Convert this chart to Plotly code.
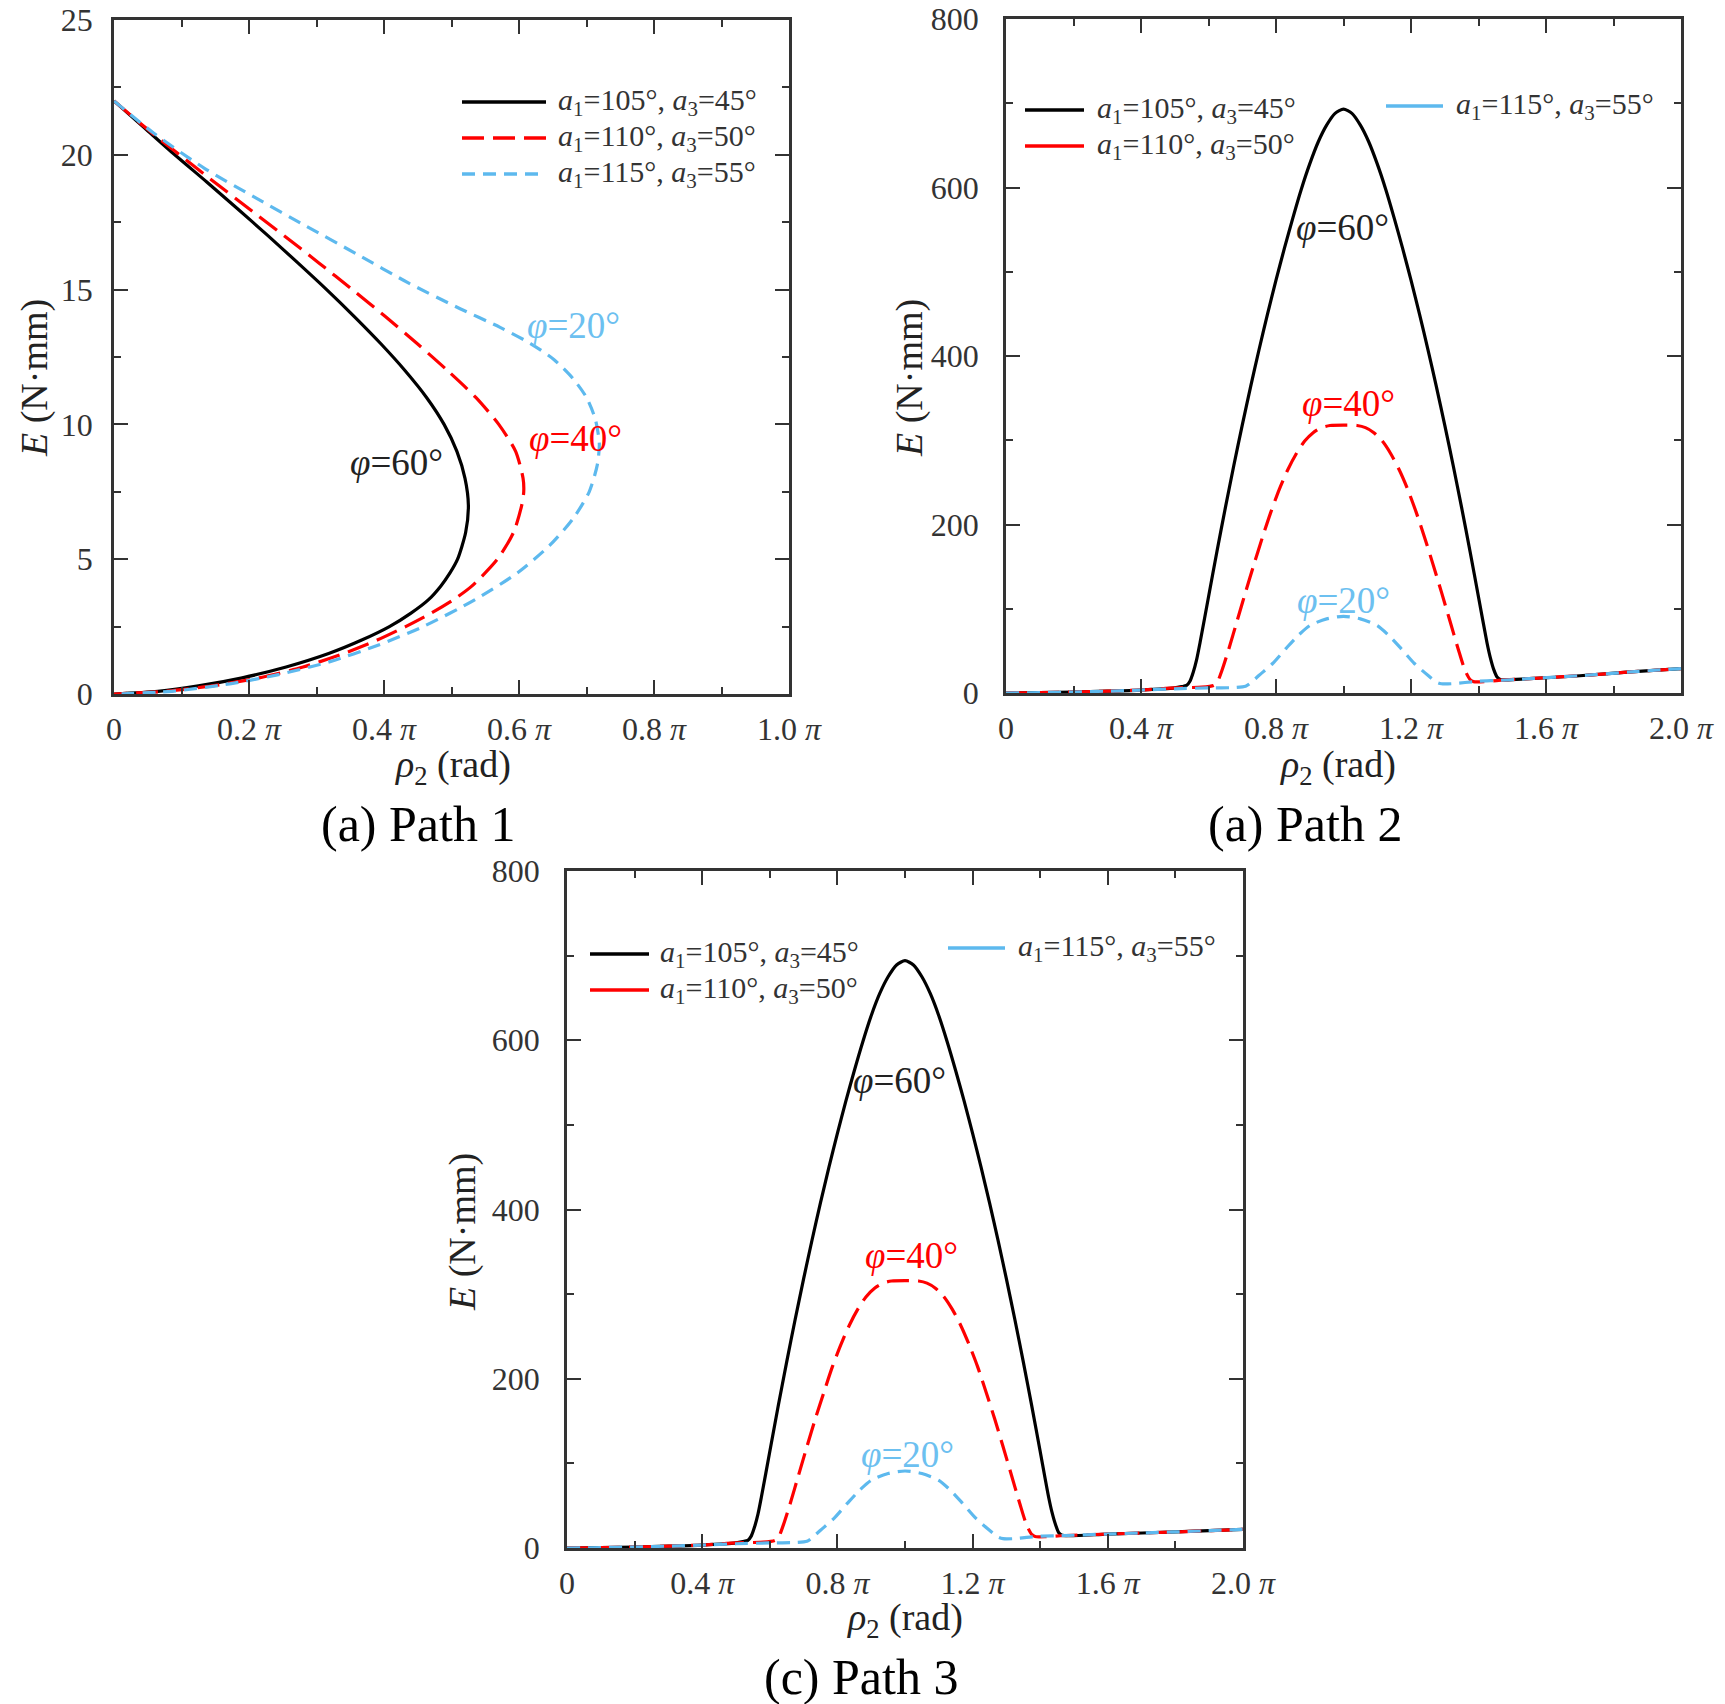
import plotly.graph_objects as go

W, H = 1725, 1704

# ---------------- DATA (x in units of pi, E in N·mm) ----------------
series_names = ["a1=105°, a3=45°", "a1=110°, a3=50°", "a1=115°, a3=55°"]
phi_labels = ["φ=60°", "φ=40°", "φ=20°"]

# Path 1 (curves run from E=22 at x=0 round the nose back to the origin)
p1_black_x = [0.000, 0.045, 0.090, 0.137, 0.183, 0.228, 0.272, 0.315, 0.356, 0.395, 0.431, 0.463, 0.489,
              0.508, 0.520, 0.525, 0.521, 0.509, 0.498, 0.484, 0.466, 0.440, 0.408, 0.367, 0.318, 0.255,
              0.190, 0.125, 0.065, 0.000]
p1_black_E = [22.0, 21.0, 20.0, 19.0, 18.0, 17.0, 16.0, 15.0, 14.0, 13.0, 12.0, 11.0, 10.0,
              9.0, 8.0, 7.0, 6.0, 5.0, 4.5, 4.0, 3.5, 3.0, 2.5, 2.0, 1.5, 1.0,
              0.6, 0.3, 0.1, 0.0]
p1_red_x = [0.000, 0.047, 0.097, 0.148, 0.200, 0.252, 0.303, 0.353, 0.402, 0.449, 0.494, 0.536, 0.570,
            0.595, 0.606, 0.607, 0.604, 0.592, 0.568, 0.530, 0.503, 0.470, 0.432, 0.390, 0.340, 0.280,
            0.215, 0.145, 0.075, 0.000]
p1_red_E = [22.0, 21.0, 20.0, 19.0, 18.0, 17.0, 16.0, 15.0, 14.0, 13.0, 12.0, 11.0, 10.0,
            9.0, 8.0, 7.5, 7.0, 6.0, 5.0, 4.0, 3.5, 3.0, 2.5, 2.0, 1.5, 1.0,
            0.6, 0.3, 0.1, 0.0]
p1_blue_x = [0.000, 0.059, 0.134, 0.210, 0.285, 0.361, 0.436, 0.512, 0.572, 0.617, 0.652, 0.680, 0.700,
             0.713, 0.719, 0.716, 0.704, 0.680, 0.645, 0.598, 0.535, 0.458, 0.390, 0.320, 0.240, 0.165,
             0.085, 0.000]
p1_blue_E = [22.0, 20.8, 19.5, 18.4, 17.35, 16.3, 15.25, 14.3, 13.6, 13.0, 12.4, 11.7, 11.0,
             10.2, 9.3, 8.5, 7.5, 6.5, 5.5, 4.5, 3.5, 2.5, 1.8, 1.2, 0.7, 0.35,
             0.1, 0.0]

# Path 2
p2_black_x = [0.00, 0.10, 0.20, 0.30, 0.40, 0.50, 0.52, 0.535, 0.545, 0.555, 0.565, 0.575, 0.60, 0.625, 0.65,
              0.675, 0.70, 0.725, 0.75, 0.775, 0.80, 0.825, 0.85, 0.875, 0.90, 0.925, 0.95, 0.975, 1.00,
              1.025, 1.05, 1.075, 1.10, 1.125, 1.15, 1.175, 1.20, 1.225, 1.25, 1.275, 1.30, 1.325,
              1.35, 1.375, 1.40, 1.425, 1.435, 1.445, 1.455, 1.465, 1.55, 1.70, 1.85, 2.00]
p2_black_E = [0, 0.5, 1.2, 2.2, 3.5, 6, 7.5, 9, 14, 25, 40, 60, 114, 168, 220,
              270, 318, 364, 408, 450, 490, 528, 564, 598, 628, 654, 674, 688, 693,
              688, 674, 654, 628, 598, 564, 528, 490, 450, 408, 364, 318, 270,
              220, 168, 114, 60, 42, 28, 19, 16, 17, 20.5, 25, 29]
p2_red_x = [0.00, 0.10, 0.20, 0.30, 0.40, 0.50, 0.58, 0.615, 0.625, 0.64, 0.66, 0.685, 0.71, 0.735, 0.76,
            0.785, 0.81, 0.835, 0.86, 0.885, 0.91, 0.935, 0.96, 1.00, 1.04, 1.065, 1.09, 1.115, 1.14,
            1.165, 1.19, 1.215, 1.24, 1.265, 1.29, 1.315, 1.34, 1.36, 1.375, 1.385, 1.42, 1.46,
            1.55, 1.70, 1.85, 2.00]
p2_red_E = [0, 0.5, 1.2, 2.2, 3.5, 6, 7, 9, 12, 27, 52, 86, 120, 153, 185,
            215, 242, 265, 284, 299, 309, 315, 317.5, 318, 317.5, 315, 309, 299, 284,
            265, 242, 215, 185, 153, 120, 86, 52, 27, 16, 13.5, 13.5, 15,
            17, 20.5, 25, 29]
p2_blue_x = [0.00, 0.10, 0.20, 0.30, 0.40, 0.50, 0.60, 0.68, 0.71, 0.725, 0.75, 0.79, 0.83, 0.865, 0.90,
             0.95, 1.00, 1.05, 1.10, 1.135, 1.17, 1.21, 1.25, 1.275, 1.29, 1.32, 1.36, 1.40, 1.46,
             1.55, 1.70, 1.85, 2.00]
p2_blue_E = [0, 0.5, 1.2, 2.2, 3.5, 5, 6, 6.5, 8, 12, 21, 35, 53, 68, 80,
             88, 91, 88, 80, 68, 53, 35, 21, 13, 11, 11, 12.5, 14, 15,
             17, 20.5, 25, 29]

# Path 3
p3_black_x = [0.00, 0.10, 0.20, 0.30, 0.40, 0.50, 0.52, 0.535, 0.545, 0.555, 0.565, 0.575, 0.60, 0.625, 0.65,
              0.675, 0.70, 0.725, 0.75, 0.775, 0.80, 0.825, 0.85, 0.875, 0.90, 0.925, 0.95, 0.975, 1.00,
              1.025, 1.05, 1.075, 1.10, 1.125, 1.15, 1.175, 1.20, 1.225, 1.25, 1.275, 1.30, 1.325,
              1.35, 1.375, 1.40, 1.425, 1.435, 1.445, 1.455, 1.465, 1.60, 1.80, 2.00]
p3_black_E = [0, 0.5, 1.2, 2.2, 3.5, 6, 7.5, 9, 14, 25, 40, 60, 114, 168, 220,
              270, 318, 364, 408, 450, 490, 528, 564, 598, 629, 655, 675, 689, 694,
              689, 675, 655, 629, 598, 564, 528, 490, 450, 408, 364, 318, 270,
              220, 168, 114, 60, 42, 28, 18, 15, 16.5, 19, 22]
p3_red_x = [0.00, 0.10, 0.20, 0.30, 0.40, 0.50, 0.58, 0.615, 0.625, 0.64, 0.66, 0.685, 0.71, 0.735, 0.76,
            0.785, 0.81, 0.835, 0.86, 0.885, 0.91, 0.935, 0.96, 1.00, 1.04, 1.065, 1.09, 1.115, 1.14,
            1.165, 1.19, 1.215, 1.24, 1.265, 1.29, 1.315, 1.34, 1.36, 1.375, 1.385, 1.42, 1.46,
            1.60, 1.80, 2.00]
p3_red_E = [0, 0.5, 1.2, 2.2, 3.5, 6, 7, 9, 12, 27, 52, 86, 120, 153, 184,
            214, 240, 263, 282, 297, 307, 313, 315.5, 316, 315.5, 313, 307, 297, 282,
            263, 240, 214, 184, 153, 120, 86, 52, 27, 16, 13.5, 13.5, 14.5,
            16.5, 19, 22]
p3_blue_x = [0.00, 0.10, 0.20, 0.30, 0.40, 0.50, 0.60, 0.68, 0.71, 0.725, 0.75, 0.79, 0.83, 0.865, 0.90,
             0.95, 1.00, 1.05, 1.10, 1.135, 1.17, 1.21, 1.25, 1.275, 1.29, 1.32, 1.36, 1.40, 1.46,
             1.60, 1.80, 2.00]
p3_blue_E = [0, 0.5, 1.2, 2.2, 3.5, 5, 6, 6.5, 8, 12, 21, 35, 53, 68, 80,
             88, 91, 88, 80, 68, 53, 35, 21, 13, 11, 11, 12.5, 14, 14.5,
             16.5, 19, 22]

# tick labels
p1_xtick_vals = [0, 0.2, 0.4, 0.6, 0.8, 1.0]
p1_xtick_text = ["0", "0.2 <i>π</i>", "0.4 <i>π</i>", "0.6 <i>π</i>", "0.8 <i>π</i>", "1.0 <i>π</i>"]
p23_xtick_vals = [0, 0.4, 0.8, 1.2, 1.6, 2.0]
p23_xtick_text = ["0", "0.4 <i>π</i>", "0.8 <i>π</i>", "1.2 <i>π</i>", "1.6 <i>π</i>", "2.0 <i>π</i>"]

# ---------------- STYLE ----------------
BLACK = "#000000"
RED = "#FF0000"
BLUE = "#5DB9EE"
FONT = "Liberation Serif"
AX = "#333333"

# plot areas in pixels (left, top, right, bottom)
boxes = {
    1: (114, 20, 789, 694),
    2: (1006, 19, 1681, 693),
    3: (567, 871, 1243, 1548),
}


def px(x):
    return x / W


def py(y):
    return 1 - y / H


fig = go.Figure()

line_styles = [
    dict(color=BLACK, width=3.2, dash="solid"),
    dict(color=RED, width=3.2, dash="22px,9px"),
    dict(color=BLUE, width=3.2, dash="13px,8px"),
]

panels = [
    ("x", "y", [(p1_black_x, p1_black_E), (p1_red_x, p1_red_E), (p1_blue_x, p1_blue_E)]),
    ("x2", "y2", [(p2_black_x, p2_black_E), (p2_red_x, p2_red_E), (p2_blue_x, p2_blue_E)]),
    ("x3", "y3", [(p3_black_x, p3_black_E), (p3_red_x, p3_red_E), (p3_blue_x, p3_blue_E)]),
]
for xa, ya, data in panels:
    for (xs, es), st, name in zip(data, line_styles, series_names):
        fig.add_trace(go.Scatter(x=xs, y=es, mode="lines", name=name,
                                 line=dict(shape="spline", smoothing=0.7, **st),
                                 xaxis=xa, yaxis=ya, showlegend=False))

axis_common = dict(showline=True, linecolor=AX, linewidth=2.5, mirror="ticks", ticks="inside", ticklen=14,
                   tickwidth=2, tickcolor=AX, showgrid=False, zeroline=False, automargin=False,
                   tickfont=dict(family=FONT, size=32, color=AX))


def minor(dt):
    return dict(ticks="inside", ticklen=7, tickwidth=2, tickcolor=AX, dtick=dt, tick0=0, showgrid=False)


layout_axes = {}
for key in [1, 2, 3]:
    l, t, r, b = boxes[key]
    xname = "xaxis" if key == 1 else f"xaxis{key}"
    yname = "yaxis" if key == 1 else f"yaxis{key}"
    anchor_x = "y" if key == 1 else f"y{key}"
    anchor_y = "x" if key == 1 else f"x{key}"
    if key == 1:
        xr, xtv, xtt, xminor = [0, 1.0], p1_xtick_vals, p1_xtick_text, 0.1
        yr, ydt, yminor = [0, 25], 5, 2.5
        ystand = 12
    else:
        xr, xtv, xtt, xminor = [0, 2.0], p23_xtick_vals, p23_xtick_text, 0.2
        yr, ydt, yminor = [0, 800], 200, 100
        ystand = 18
    layout_axes[xname] = dict(axis_common, domain=[px(l), px(r)], range=xr, anchor=anchor_x,
                              tickmode="array", tickvals=xtv, ticktext=xtt, minor=minor(xminor),
                              ticklabelstandoff=5)
    layout_axes[yname] = dict(axis_common, domain=[py(b), py(t)], range=yr, anchor=anchor_y,
                              tick0=0, dtick=ydt, minor=minor(yminor), ticklabelstandoff=ystand)

fig.update_layout(**layout_axes)

ann = []
shapes = []

# axis titles and captions
ytitle = "<i>E</i> (N·mm)"
xtitle = "<i>ρ</i><sub>2</sub> (rad)"
for (xc, yc) in [(34, 378), (909, 378), (462, 1232)]:
    ann.append(dict(x=px(xc), y=py(yc), xref="paper", yref="paper", text=ytitle, textangle=-90,
                    showarrow=False, font=dict(family=FONT, size=38, color="#222"),
                    xanchor="center", yanchor="middle"))
for (xc, yc) in [(453, 767), (1338, 767), (905, 1620)]:
    ann.append(dict(x=px(xc), y=py(yc), xref="paper", yref="paper", text=xtitle,
                    showarrow=False, font=dict(family=FONT, size=38, color="#222"),
                    xanchor="center", yanchor="middle"))
captions = ["(a) Path 1", "(a) Path 2", "(c) Path 3"]
for cap, (xc, yc) in zip(captions, [(418, 824), (1305, 824), (861, 1677)]):
    ann.append(dict(x=px(xc), y=py(yc), xref="paper", yref="paper", text=cap,
                    showarrow=False, font=dict(family=FONT, size=50, color="#000"),
                    xanchor="center", yanchor="middle"))

# phi labels (data coordinates)
phi_pos = {
    1: [(0.418, 8.6), (0.683, 9.46), (0.68, 13.65)],
    2: [(0.996, 553), (1.016, 344), (1.001, 110)],
    3: [(0.985, 552), (1.018, 346), (1.006, 110)],
}
phi_colors = ["#222222", RED, "#6CC0F0"]
for key in [1, 2, 3]:
    xr_ = "x" if key == 1 else f"x{key}"
    yr_ = "y" if key == 1 else f"y{key}"
    for lab, (xx, yy), c in zip(phi_labels, phi_pos[key], phi_colors):
        txt = "<i>φ</i>" + lab[1:]
        ann.append(dict(x=xx, y=yy, xref=xr_, yref=yr_, text=txt, showarrow=False,
                        font=dict(family=FONT, size=37, color=c), xanchor="center", yanchor="middle"))

# custom legends (line sample shapes + text)
leg_text = ["<i>a</i><sub>1</sub>=105°, <i>a</i><sub>3</sub>=45°",
            "<i>a</i><sub>1</sub>=110°, <i>a</i><sub>3</sub>=50°",
            "<i>a</i><sub>1</sub>=115°, <i>a</i><sub>3</sub>=55°"]
# (x0, x1, y, text_x, dashed?)
legend_items = [
    [(462, 546, 102, 556, True), (462, 546, 138, 556, True), (462, 546, 174, 556, True)],
    [(1025, 1084, 110, 1095, False), (1025, 1084, 146, 1095, False), (1386, 1443, 106, 1454, False)],
    [(590, 649, 954, 658, False), (590, 649, 990, 658, False), (948, 1005, 948, 1016, False)],
]
for items in legend_items:
    for (x0, x1, yy, tx, dashed), st, txt in zip(items, line_styles, leg_text):
        shapes.append(dict(type="line", xref="paper", yref="paper", x0=px(x0), x1=px(x1), y0=py(yy), y1=py(yy),
                           line=dict(color=st["color"], width=3.5, dash=st["dash"] if dashed else "solid")))
        ann.append(dict(x=px(tx), y=py(yy), xref="paper", yref="paper", text=txt, showarrow=False,
                        font=dict(family=FONT, size=30, color="#333"), xanchor="left", yanchor="middle"))

fig.update_layout(width=W, height=H, margin=dict(l=0, r=0, t=0, b=0, pad=0), paper_bgcolor="white",
                  plot_bgcolor="white", showlegend=False, annotations=ann, shapes=shapes,
                  font=dict(family=FONT))

fig.write_html("out.html")
